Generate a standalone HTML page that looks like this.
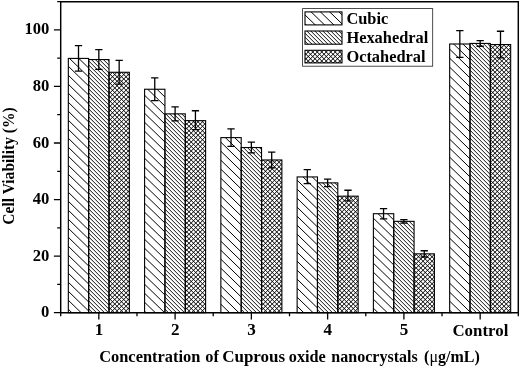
<!DOCTYPE html>
<html><head><meta charset="utf-8"><title>Cell Viability</title>
<style>
html,body{margin:0;padding:0;background:#fff;}
body{width:520px;height:366px;overflow:hidden;}
svg{display:block;}
text{font-family:"Liberation Serif","Times New Roman",serif;font-weight:bold;fill:#000;}
</style></head><body>
<svg width="520" height="366" viewBox="0 0 520 366">
<rect width="520" height="366" fill="#fff"/>
<defs><filter id="bl" x="-5%" y="-5%" width="110%" height="110%"><feGaussianBlur stdDeviation="0.4"/></filter><clipPath id="c1"><rect x="68.33" y="58.42" width="20.34" height="254.28"/></clipPath>
<clipPath id="c2"><rect x="88.66" y="59.55" width="20.34" height="253.15"/></clipPath>
<clipPath id="c3"><rect x="109.00" y="72.28" width="20.34" height="240.42"/></clipPath>
<clipPath id="c4"><rect x="144.59" y="89.25" width="20.34" height="223.45"/></clipPath>
<clipPath id="c5"><rect x="164.93" y="113.86" width="20.34" height="198.84"/></clipPath>
<clipPath id="c6"><rect x="185.27" y="120.64" width="20.34" height="192.06"/></clipPath>
<clipPath id="c7"><rect x="220.86" y="137.62" width="20.34" height="175.08"/></clipPath>
<clipPath id="c8"><rect x="241.20" y="147.52" width="20.34" height="165.18"/></clipPath>
<clipPath id="c9"><rect x="261.54" y="159.96" width="20.34" height="152.74"/></clipPath>
<clipPath id="c10"><rect x="297.13" y="176.93" width="20.34" height="135.77"/></clipPath>
<clipPath id="c11"><rect x="317.46" y="182.87" width="20.34" height="129.83"/></clipPath>
<clipPath id="c12"><rect x="337.80" y="196.17" width="20.34" height="116.53"/></clipPath>
<clipPath id="c13"><rect x="373.39" y="213.70" width="20.34" height="99.00"/></clipPath>
<clipPath id="c14"><rect x="393.73" y="221.34" width="20.34" height="91.36"/></clipPath>
<clipPath id="c15"><rect x="414.07" y="253.87" width="20.34" height="58.83"/></clipPath>
<clipPath id="c16"><rect x="449.66" y="43.99" width="20.34" height="268.71"/></clipPath>
<clipPath id="c17"><rect x="470.00" y="43.43" width="20.34" height="269.27"/></clipPath>
<clipPath id="c18"><rect x="490.34" y="44.56" width="20.34" height="268.14"/></clipPath>
<clipPath id="c19"><rect x="305.00" y="11.90" width="37.00" height="13.00"/></clipPath>
<clipPath id="c20"><rect x="305.00" y="31.00" width="37.00" height="13.20"/></clipPath>
<clipPath id="c21"><rect x="305.00" y="50.30" width="37.00" height="12.60"/></clipPath></defs>
<g clip-path="url(#c1)"><path filter="url(#bl)" d="M67.33 20.31L89.66 41.97M67.33 29.31L89.66 50.97M67.33 38.31L89.66 59.97M67.33 47.31L89.66 68.97M67.33 56.31L89.66 77.97M67.33 65.31L89.66 86.97M67.33 74.31L89.66 95.97M67.33 83.31L89.66 104.97M67.33 92.31L89.66 113.97M67.33 101.31L89.66 122.97M67.33 110.31L89.66 131.97M67.33 119.31L89.66 140.97M67.33 128.31L89.66 149.97M67.33 137.31L89.66 158.97M67.33 146.31L89.66 167.97M67.33 155.31L89.66 176.97M67.33 164.31L89.66 185.97M67.33 173.31L89.66 194.97M67.33 182.31L89.66 203.97M67.33 191.31L89.66 212.97M67.33 200.31L89.66 221.97M67.33 209.31L89.66 230.97M67.33 218.31L89.66 239.97M67.33 227.31L89.66 248.97M67.33 236.31L89.66 257.97M67.33 245.31L89.66 266.97M67.33 254.31L89.66 275.97M67.33 263.31L89.66 284.97M67.33 272.31L89.66 293.97M67.33 281.31L89.66 302.97M67.33 290.31L89.66 311.97M67.33 299.31L89.66 320.97M67.33 308.31L89.66 329.97M67.33 317.31L89.66 338.97M67.33 326.31L89.66 347.97" stroke="#000" stroke-width="1.00" fill="none"/></g>
<rect x="68.33" y="58.42" width="20.34" height="254.28" fill="none" stroke="#000" stroke-width="1.1"/>
<path d="M78.50 45.69V71.15M74.85 45.69H82.15M74.85 71.15H82.15" stroke="#000" stroke-width="1.3" fill="none"/>
<g clip-path="url(#c2)"><path filter="url(#bl)" d="M87.66 31.86L110.00 54.20M87.66 35.86L110.00 58.20M87.66 39.86L110.00 62.20M87.66 43.86L110.00 66.20M87.66 47.86L110.00 70.20M87.66 51.86L110.00 74.20M87.66 55.86L110.00 78.20M87.66 59.86L110.00 82.20M87.66 63.86L110.00 86.20M87.66 67.86L110.00 90.20M87.66 71.86L110.00 94.20M87.66 75.86L110.00 98.20M87.66 79.86L110.00 102.20M87.66 83.86L110.00 106.20M87.66 87.86L110.00 110.20M87.66 91.86L110.00 114.20M87.66 95.86L110.00 118.20M87.66 99.86L110.00 122.20M87.66 103.86L110.00 126.20M87.66 107.86L110.00 130.20M87.66 111.86L110.00 134.20M87.66 115.86L110.00 138.20M87.66 119.86L110.00 142.20M87.66 123.86L110.00 146.20M87.66 127.86L110.00 150.20M87.66 131.86L110.00 154.20M87.66 135.86L110.00 158.20M87.66 139.86L110.00 162.20M87.66 143.86L110.00 166.20M87.66 147.86L110.00 170.20M87.66 151.86L110.00 174.20M87.66 155.86L110.00 178.20M87.66 159.86L110.00 182.20M87.66 163.86L110.00 186.20M87.66 167.86L110.00 190.20M87.66 171.86L110.00 194.20M87.66 175.86L110.00 198.20M87.66 179.86L110.00 202.20M87.66 183.86L110.00 206.20M87.66 187.86L110.00 210.20M87.66 191.86L110.00 214.20M87.66 195.86L110.00 218.20M87.66 199.86L110.00 222.20M87.66 203.86L110.00 226.20M87.66 207.86L110.00 230.20M87.66 211.86L110.00 234.20M87.66 215.86L110.00 238.20M87.66 219.86L110.00 242.20M87.66 223.86L110.00 246.20M87.66 227.86L110.00 250.20M87.66 231.86L110.00 254.20M87.66 235.86L110.00 258.20M87.66 239.86L110.00 262.20M87.66 243.86L110.00 266.20M87.66 247.86L110.00 270.20M87.66 251.86L110.00 274.20M87.66 255.86L110.00 278.20M87.66 259.86L110.00 282.20M87.66 263.86L110.00 286.20M87.66 267.86L110.00 290.20M87.66 271.86L110.00 294.20M87.66 275.86L110.00 298.20M87.66 279.86L110.00 302.20M87.66 283.86L110.00 306.20M87.66 287.86L110.00 310.20M87.66 291.86L110.00 314.20M87.66 295.86L110.00 318.20M87.66 299.86L110.00 322.20M87.66 303.86L110.00 326.20M87.66 307.86L110.00 330.20M87.66 311.86L110.00 334.20M87.66 315.86L110.00 338.20" stroke="#000" stroke-width="0.95" fill="none"/></g>
<rect x="88.66" y="59.55" width="20.34" height="253.15" fill="none" stroke="#000" stroke-width="1.1"/>
<path d="M98.83 49.65V69.45M95.18 49.65H102.48M95.18 69.45H102.48" stroke="#000" stroke-width="1.3" fill="none"/>
<g clip-path="url(#c3)"><path filter="url(#bl)" d="M108.00 45.25L130.34 67.59M108.00 49.75L130.34 72.09M108.00 54.25L130.34 76.59M108.00 58.75L130.34 81.09M108.00 63.25L130.34 85.59M108.00 67.75L130.34 90.09M108.00 72.25L130.34 94.59M108.00 76.75L130.34 99.09M108.00 81.25L130.34 103.59M108.00 85.75L130.34 108.09M108.00 90.25L130.34 112.59M108.00 94.75L130.34 117.09M108.00 99.25L130.34 121.59M108.00 103.75L130.34 126.09M108.00 108.25L130.34 130.59M108.00 112.75L130.34 135.09M108.00 117.25L130.34 139.59M108.00 121.75L130.34 144.09M108.00 126.25L130.34 148.59M108.00 130.75L130.34 153.09M108.00 135.25L130.34 157.59M108.00 139.75L130.34 162.09M108.00 144.25L130.34 166.59M108.00 148.75L130.34 171.09M108.00 153.25L130.34 175.59M108.00 157.75L130.34 180.09M108.00 162.25L130.34 184.59M108.00 166.75L130.34 189.09M108.00 171.25L130.34 193.59M108.00 175.75L130.34 198.09M108.00 180.25L130.34 202.59M108.00 184.75L130.34 207.09M108.00 189.25L130.34 211.59M108.00 193.75L130.34 216.09M108.00 198.25L130.34 220.59M108.00 202.75L130.34 225.09M108.00 207.25L130.34 229.59M108.00 211.75L130.34 234.09M108.00 216.25L130.34 238.59M108.00 220.75L130.34 243.09M108.00 225.25L130.34 247.59M108.00 229.75L130.34 252.09M108.00 234.25L130.34 256.59M108.00 238.75L130.34 261.09M108.00 243.25L130.34 265.59M108.00 247.75L130.34 270.09M108.00 252.25L130.34 274.59M108.00 256.75L130.34 279.09M108.00 261.25L130.34 283.59M108.00 265.75L130.34 288.09M108.00 270.25L130.34 292.59M108.00 274.75L130.34 297.09M108.00 279.25L130.34 301.59M108.00 283.75L130.34 306.09M108.00 288.25L130.34 310.59M108.00 292.75L130.34 315.09M108.00 297.25L130.34 319.59M108.00 301.75L130.34 324.09M108.00 306.25L130.34 328.59M108.00 310.75L130.34 333.09M108.00 315.25L130.34 337.59M108.00 319.75L130.34 342.09M108.00 67.75L130.34 45.41M108.00 72.25L130.34 49.91M108.00 76.75L130.34 54.41M108.00 81.25L130.34 58.91M108.00 85.75L130.34 63.41M108.00 90.25L130.34 67.91M108.00 94.75L130.34 72.41M108.00 99.25L130.34 76.91M108.00 103.75L130.34 81.41M108.00 108.25L130.34 85.91M108.00 112.75L130.34 90.41M108.00 117.25L130.34 94.91M108.00 121.75L130.34 99.41M108.00 126.25L130.34 103.91M108.00 130.75L130.34 108.41M108.00 135.25L130.34 112.91M108.00 139.75L130.34 117.41M108.00 144.25L130.34 121.91M108.00 148.75L130.34 126.41M108.00 153.25L130.34 130.91M108.00 157.75L130.34 135.41M108.00 162.25L130.34 139.91M108.00 166.75L130.34 144.41M108.00 171.25L130.34 148.91M108.00 175.75L130.34 153.41M108.00 180.25L130.34 157.91M108.00 184.75L130.34 162.41M108.00 189.25L130.34 166.91M108.00 193.75L130.34 171.41M108.00 198.25L130.34 175.91M108.00 202.75L130.34 180.41M108.00 207.25L130.34 184.91M108.00 211.75L130.34 189.41M108.00 216.25L130.34 193.91M108.00 220.75L130.34 198.41M108.00 225.25L130.34 202.91M108.00 229.75L130.34 207.41M108.00 234.25L130.34 211.91M108.00 238.75L130.34 216.41M108.00 243.25L130.34 220.91M108.00 247.75L130.34 225.41M108.00 252.25L130.34 229.91M108.00 256.75L130.34 234.41M108.00 261.25L130.34 238.91M108.00 265.75L130.34 243.41M108.00 270.25L130.34 247.91M108.00 274.75L130.34 252.41M108.00 279.25L130.34 256.91M108.00 283.75L130.34 261.41M108.00 288.25L130.34 265.91M108.00 292.75L130.34 270.41M108.00 297.25L130.34 274.91M108.00 301.75L130.34 279.41M108.00 306.25L130.34 283.91M108.00 310.75L130.34 288.41M108.00 315.25L130.34 292.91M108.00 319.75L130.34 297.41M108.00 324.25L130.34 301.91M108.00 328.75L130.34 306.41M108.00 333.25L130.34 310.91M108.00 337.75L130.34 315.41M108.00 342.25L130.34 319.91" stroke="#000" stroke-width="1.00" fill="none"/></g>
<rect x="109.00" y="72.28" width="20.34" height="240.42" fill="none" stroke="#000" stroke-width="1.1"/>
<path d="M119.17 60.40V84.16M115.52 60.40H122.82M115.52 84.16H122.82" stroke="#000" stroke-width="1.3" fill="none"/>
<g clip-path="url(#c4)"><path filter="url(#bl)" d="M143.59 58.29L165.93 79.95M143.59 67.29L165.93 88.95M143.59 76.29L165.93 97.95M143.59 85.29L165.93 106.95M143.59 94.29L165.93 115.95M143.59 103.29L165.93 124.95M143.59 112.29L165.93 133.95M143.59 121.29L165.93 142.95M143.59 130.29L165.93 151.95M143.59 139.29L165.93 160.95M143.59 148.29L165.93 169.95M143.59 157.29L165.93 178.95M143.59 166.29L165.93 187.95M143.59 175.29L165.93 196.95M143.59 184.29L165.93 205.95M143.59 193.29L165.93 214.95M143.59 202.29L165.93 223.95M143.59 211.29L165.93 232.95M143.59 220.29L165.93 241.95M143.59 229.29L165.93 250.95M143.59 238.29L165.93 259.95M143.59 247.29L165.93 268.95M143.59 256.29L165.93 277.95M143.59 265.29L165.93 286.95M143.59 274.29L165.93 295.95M143.59 283.29L165.93 304.95M143.59 292.29L165.93 313.95M143.59 301.29L165.93 322.95M143.59 310.29L165.93 331.95M143.59 319.29L165.93 340.95M143.59 328.29L165.93 349.95" stroke="#000" stroke-width="1.00" fill="none"/></g>
<rect x="144.59" y="89.25" width="20.34" height="223.45" fill="none" stroke="#000" stroke-width="1.1"/>
<path d="M154.76 77.93V100.56M151.11 77.93H158.41M151.11 100.56H158.41" stroke="#000" stroke-width="1.3" fill="none"/>
<g clip-path="url(#c5)"><path filter="url(#bl)" d="M163.93 88.13L186.27 110.47M163.93 92.13L186.27 114.47M163.93 96.13L186.27 118.47M163.93 100.13L186.27 122.47M163.93 104.13L186.27 126.47M163.93 108.13L186.27 130.47M163.93 112.13L186.27 134.47M163.93 116.13L186.27 138.47M163.93 120.13L186.27 142.47M163.93 124.13L186.27 146.47M163.93 128.13L186.27 150.47M163.93 132.13L186.27 154.47M163.93 136.13L186.27 158.47M163.93 140.13L186.27 162.47M163.93 144.13L186.27 166.47M163.93 148.13L186.27 170.47M163.93 152.13L186.27 174.47M163.93 156.13L186.27 178.47M163.93 160.13L186.27 182.47M163.93 164.13L186.27 186.47M163.93 168.13L186.27 190.47M163.93 172.13L186.27 194.47M163.93 176.13L186.27 198.47M163.93 180.13L186.27 202.47M163.93 184.13L186.27 206.47M163.93 188.13L186.27 210.47M163.93 192.13L186.27 214.47M163.93 196.13L186.27 218.47M163.93 200.13L186.27 222.47M163.93 204.13L186.27 226.47M163.93 208.13L186.27 230.47M163.93 212.13L186.27 234.47M163.93 216.13L186.27 238.47M163.93 220.13L186.27 242.47M163.93 224.13L186.27 246.47M163.93 228.13L186.27 250.47M163.93 232.13L186.27 254.47M163.93 236.13L186.27 258.47M163.93 240.13L186.27 262.47M163.93 244.13L186.27 266.47M163.93 248.13L186.27 270.47M163.93 252.13L186.27 274.47M163.93 256.13L186.27 278.47M163.93 260.13L186.27 282.47M163.93 264.13L186.27 286.47M163.93 268.13L186.27 290.47M163.93 272.13L186.27 294.47M163.93 276.13L186.27 298.47M163.93 280.13L186.27 302.47M163.93 284.13L186.27 306.47M163.93 288.13L186.27 310.47M163.93 292.13L186.27 314.47M163.93 296.13L186.27 318.47M163.93 300.13L186.27 322.47M163.93 304.13L186.27 326.47M163.93 308.13L186.27 330.47M163.93 312.13L186.27 334.47M163.93 316.13L186.27 338.47" stroke="#000" stroke-width="0.95" fill="none"/></g>
<rect x="164.93" y="113.86" width="20.34" height="198.84" fill="none" stroke="#000" stroke-width="1.1"/>
<path d="M175.10 106.79V120.93M171.45 106.79H178.75M171.45 120.93H178.75" stroke="#000" stroke-width="1.3" fill="none"/>
<g clip-path="url(#c6)"><path filter="url(#bl)" d="M184.27 94.52L206.61 116.86M184.27 99.02L206.61 121.36M184.27 103.52L206.61 125.86M184.27 108.02L206.61 130.36M184.27 112.52L206.61 134.86M184.27 117.02L206.61 139.36M184.27 121.52L206.61 143.86M184.27 126.02L206.61 148.36M184.27 130.52L206.61 152.86M184.27 135.02L206.61 157.36M184.27 139.52L206.61 161.86M184.27 144.02L206.61 166.36M184.27 148.52L206.61 170.86M184.27 153.02L206.61 175.36M184.27 157.52L206.61 179.86M184.27 162.02L206.61 184.36M184.27 166.52L206.61 188.86M184.27 171.02L206.61 193.36M184.27 175.52L206.61 197.86M184.27 180.02L206.61 202.36M184.27 184.52L206.61 206.86M184.27 189.02L206.61 211.36M184.27 193.52L206.61 215.86M184.27 198.02L206.61 220.36M184.27 202.52L206.61 224.86M184.27 207.02L206.61 229.36M184.27 211.52L206.61 233.86M184.27 216.02L206.61 238.36M184.27 220.52L206.61 242.86M184.27 225.02L206.61 247.36M184.27 229.52L206.61 251.86M184.27 234.02L206.61 256.36M184.27 238.52L206.61 260.86M184.27 243.02L206.61 265.36M184.27 247.52L206.61 269.86M184.27 252.02L206.61 274.36M184.27 256.52L206.61 278.86M184.27 261.02L206.61 283.36M184.27 265.52L206.61 287.86M184.27 270.02L206.61 292.36M184.27 274.52L206.61 296.86M184.27 279.02L206.61 301.36M184.27 283.52L206.61 305.86M184.27 288.02L206.61 310.36M184.27 292.52L206.61 314.86M184.27 297.02L206.61 319.36M184.27 301.52L206.61 323.86M184.27 306.02L206.61 328.36M184.27 310.52L206.61 332.86M184.27 315.02L206.61 337.36M184.27 319.52L206.61 341.86M184.27 112.98L206.61 90.64M184.27 117.48L206.61 95.14M184.27 121.98L206.61 99.64M184.27 126.48L206.61 104.14M184.27 130.98L206.61 108.64M184.27 135.48L206.61 113.14M184.27 139.98L206.61 117.64M184.27 144.48L206.61 122.14M184.27 148.98L206.61 126.64M184.27 153.48L206.61 131.14M184.27 157.98L206.61 135.64M184.27 162.48L206.61 140.14M184.27 166.98L206.61 144.64M184.27 171.48L206.61 149.14M184.27 175.98L206.61 153.64M184.27 180.48L206.61 158.14M184.27 184.98L206.61 162.64M184.27 189.48L206.61 167.14M184.27 193.98L206.61 171.64M184.27 198.48L206.61 176.14M184.27 202.98L206.61 180.64M184.27 207.48L206.61 185.14M184.27 211.98L206.61 189.64M184.27 216.48L206.61 194.14M184.27 220.98L206.61 198.64M184.27 225.48L206.61 203.14M184.27 229.98L206.61 207.64M184.27 234.48L206.61 212.14M184.27 238.98L206.61 216.64M184.27 243.48L206.61 221.14M184.27 247.98L206.61 225.64M184.27 252.48L206.61 230.14M184.27 256.98L206.61 234.64M184.27 261.48L206.61 239.14M184.27 265.98L206.61 243.64M184.27 270.48L206.61 248.14M184.27 274.98L206.61 252.64M184.27 279.48L206.61 257.14M184.27 283.98L206.61 261.64M184.27 288.48L206.61 266.14M184.27 292.98L206.61 270.64M184.27 297.48L206.61 275.14M184.27 301.98L206.61 279.64M184.27 306.48L206.61 284.14M184.27 310.98L206.61 288.64M184.27 315.48L206.61 293.14M184.27 319.98L206.61 297.64M184.27 324.48L206.61 302.14M184.27 328.98L206.61 306.64M184.27 333.48L206.61 311.14M184.27 337.98L206.61 315.64M184.27 342.48L206.61 320.14" stroke="#000" stroke-width="1.00" fill="none"/></g>
<rect x="185.27" y="120.64" width="20.34" height="192.06" fill="none" stroke="#000" stroke-width="1.1"/>
<path d="M195.44 110.75V129.70M191.79 110.75H199.09M191.79 129.70H199.09" stroke="#000" stroke-width="1.3" fill="none"/>
<g clip-path="url(#c7)"><path filter="url(#bl)" d="M219.86 105.26L242.20 126.93M219.86 114.26L242.20 135.93M219.86 123.26L242.20 144.93M219.86 132.26L242.20 153.93M219.86 141.26L242.20 162.93M219.86 150.26L242.20 171.93M219.86 159.26L242.20 180.93M219.86 168.26L242.20 189.93M219.86 177.26L242.20 198.93M219.86 186.26L242.20 207.93M219.86 195.26L242.20 216.93M219.86 204.26L242.20 225.93M219.86 213.26L242.20 234.93M219.86 222.26L242.20 243.93M219.86 231.26L242.20 252.93M219.86 240.26L242.20 261.93M219.86 249.26L242.20 270.93M219.86 258.26L242.20 279.93M219.86 267.26L242.20 288.93M219.86 276.26L242.20 297.93M219.86 285.26L242.20 306.93M219.86 294.26L242.20 315.93M219.86 303.26L242.20 324.93M219.86 312.26L242.20 333.93M219.86 321.26L242.20 342.93" stroke="#000" stroke-width="1.00" fill="none"/></g>
<rect x="220.86" y="137.62" width="20.34" height="175.08" fill="none" stroke="#000" stroke-width="1.1"/>
<path d="M231.03 128.85V146.38M227.38 128.85H234.68M227.38 146.38H234.68" stroke="#000" stroke-width="1.3" fill="none"/>
<g clip-path="url(#c8)"><path filter="url(#bl)" d="M240.20 120.40L262.54 142.74M240.20 124.40L262.54 146.74M240.20 128.40L262.54 150.74M240.20 132.40L262.54 154.74M240.20 136.40L262.54 158.74M240.20 140.40L262.54 162.74M240.20 144.40L262.54 166.74M240.20 148.40L262.54 170.74M240.20 152.40L262.54 174.74M240.20 156.40L262.54 178.74M240.20 160.40L262.54 182.74M240.20 164.40L262.54 186.74M240.20 168.40L262.54 190.74M240.20 172.40L262.54 194.74M240.20 176.40L262.54 198.74M240.20 180.40L262.54 202.74M240.20 184.40L262.54 206.74M240.20 188.40L262.54 210.74M240.20 192.40L262.54 214.74M240.20 196.40L262.54 218.74M240.20 200.40L262.54 222.74M240.20 204.40L262.54 226.74M240.20 208.40L262.54 230.74M240.20 212.40L262.54 234.74M240.20 216.40L262.54 238.74M240.20 220.40L262.54 242.74M240.20 224.40L262.54 246.74M240.20 228.40L262.54 250.74M240.20 232.40L262.54 254.74M240.20 236.40L262.54 258.74M240.20 240.40L262.54 262.74M240.20 244.40L262.54 266.74M240.20 248.40L262.54 270.74M240.20 252.40L262.54 274.74M240.20 256.40L262.54 278.74M240.20 260.40L262.54 282.74M240.20 264.40L262.54 286.74M240.20 268.40L262.54 290.74M240.20 272.40L262.54 294.74M240.20 276.40L262.54 298.74M240.20 280.40L262.54 302.74M240.20 284.40L262.54 306.74M240.20 288.40L262.54 310.74M240.20 292.40L262.54 314.74M240.20 296.40L262.54 318.74M240.20 300.40L262.54 322.74M240.20 304.40L262.54 326.74M240.20 308.40L262.54 330.74M240.20 312.40L262.54 334.74M240.20 316.40L262.54 338.74" stroke="#000" stroke-width="0.95" fill="none"/></g>
<rect x="241.20" y="147.52" width="20.34" height="165.18" fill="none" stroke="#000" stroke-width="1.1"/>
<path d="M251.37 142.14V152.89M247.72 142.14H255.02M247.72 152.89H255.02" stroke="#000" stroke-width="1.3" fill="none"/>
<g clip-path="url(#c9)"><path filter="url(#bl)" d="M260.54 130.29L282.87 152.62M260.54 134.79L282.87 157.12M260.54 139.29L282.87 161.62M260.54 143.79L282.87 166.12M260.54 148.29L282.87 170.62M260.54 152.79L282.87 175.12M260.54 157.29L282.87 179.62M260.54 161.79L282.87 184.12M260.54 166.29L282.87 188.62M260.54 170.79L282.87 193.12M260.54 175.29L282.87 197.62M260.54 179.79L282.87 202.12M260.54 184.29L282.87 206.62M260.54 188.79L282.87 211.12M260.54 193.29L282.87 215.62M260.54 197.79L282.87 220.12M260.54 202.29L282.87 224.62M260.54 206.79L282.87 229.12M260.54 211.29L282.87 233.62M260.54 215.79L282.87 238.12M260.54 220.29L282.87 242.62M260.54 224.79L282.87 247.12M260.54 229.29L282.87 251.62M260.54 233.79L282.87 256.12M260.54 238.29L282.87 260.62M260.54 242.79L282.87 265.12M260.54 247.29L282.87 269.62M260.54 251.79L282.87 274.12M260.54 256.29L282.87 278.62M260.54 260.79L282.87 283.12M260.54 265.29L282.87 287.62M260.54 269.79L282.87 292.12M260.54 274.29L282.87 296.62M260.54 278.79L282.87 301.12M260.54 283.29L282.87 305.62M260.54 287.79L282.87 310.12M260.54 292.29L282.87 314.62M260.54 296.79L282.87 319.12M260.54 301.29L282.87 323.62M260.54 305.79L282.87 328.12M260.54 310.29L282.87 332.62M260.54 314.79L282.87 337.12M260.54 319.29L282.87 341.62M260.54 153.71L282.87 131.38M260.54 158.21L282.87 135.88M260.54 162.71L282.87 140.38M260.54 167.21L282.87 144.88M260.54 171.71L282.87 149.38M260.54 176.21L282.87 153.88M260.54 180.71L282.87 158.38M260.54 185.21L282.87 162.88M260.54 189.71L282.87 167.38M260.54 194.21L282.87 171.88M260.54 198.71L282.87 176.38M260.54 203.21L282.87 180.88M260.54 207.71L282.87 185.38M260.54 212.21L282.87 189.88M260.54 216.71L282.87 194.38M260.54 221.21L282.87 198.88M260.54 225.71L282.87 203.38M260.54 230.21L282.87 207.88M260.54 234.71L282.87 212.38M260.54 239.21L282.87 216.88M260.54 243.71L282.87 221.38M260.54 248.21L282.87 225.88M260.54 252.71L282.87 230.38M260.54 257.21L282.87 234.88M260.54 261.71L282.87 239.38M260.54 266.21L282.87 243.88M260.54 270.71L282.87 248.38M260.54 275.21L282.87 252.88M260.54 279.71L282.87 257.38M260.54 284.21L282.87 261.88M260.54 288.71L282.87 266.38M260.54 293.21L282.87 270.88M260.54 297.71L282.87 275.38M260.54 302.21L282.87 279.88M260.54 306.71L282.87 284.38M260.54 311.21L282.87 288.88M260.54 315.71L282.87 293.38M260.54 320.21L282.87 297.88M260.54 324.71L282.87 302.38M260.54 329.21L282.87 306.88M260.54 333.71L282.87 311.38M260.54 338.21L282.87 315.88M260.54 342.71L282.87 320.38" stroke="#000" stroke-width="1.00" fill="none"/></g>
<rect x="261.54" y="159.96" width="20.34" height="152.74" fill="none" stroke="#000" stroke-width="1.1"/>
<path d="M271.70 152.04V167.88M268.05 152.04H275.35M268.05 167.88H275.35" stroke="#000" stroke-width="1.3" fill="none"/>
<g clip-path="url(#c10)"><path filter="url(#bl)" d="M296.13 143.24L318.46 164.91M296.13 152.24L318.46 173.91M296.13 161.24L318.46 182.91M296.13 170.24L318.46 191.91M296.13 179.24L318.46 200.91M296.13 188.24L318.46 209.91M296.13 197.24L318.46 218.91M296.13 206.24L318.46 227.91M296.13 215.24L318.46 236.91M296.13 224.24L318.46 245.91M296.13 233.24L318.46 254.91M296.13 242.24L318.46 263.91M296.13 251.24L318.46 272.91M296.13 260.24L318.46 281.91M296.13 269.24L318.46 290.91M296.13 278.24L318.46 299.91M296.13 287.24L318.46 308.91M296.13 296.24L318.46 317.91M296.13 305.24L318.46 326.91M296.13 314.24L318.46 335.91M296.13 323.24L318.46 344.91" stroke="#000" stroke-width="1.00" fill="none"/></g>
<rect x="297.13" y="176.93" width="20.34" height="135.77" fill="none" stroke="#000" stroke-width="1.1"/>
<path d="M307.30 169.72V183.72M303.65 169.72H310.95M303.65 183.72H310.95" stroke="#000" stroke-width="1.3" fill="none"/>
<g clip-path="url(#c11)"><path filter="url(#bl)" d="M316.46 156.66L338.80 179.00M316.46 160.66L338.80 183.00M316.46 164.66L338.80 187.00M316.46 168.66L338.80 191.00M316.46 172.66L338.80 195.00M316.46 176.66L338.80 199.00M316.46 180.66L338.80 203.00M316.46 184.66L338.80 207.00M316.46 188.66L338.80 211.00M316.46 192.66L338.80 215.00M316.46 196.66L338.80 219.00M316.46 200.66L338.80 223.00M316.46 204.66L338.80 227.00M316.46 208.66L338.80 231.00M316.46 212.66L338.80 235.00M316.46 216.66L338.80 239.00M316.46 220.66L338.80 243.00M316.46 224.66L338.80 247.00M316.46 228.66L338.80 251.00M316.46 232.66L338.80 255.00M316.46 236.66L338.80 259.00M316.46 240.66L338.80 263.00M316.46 244.66L338.80 267.00M316.46 248.66L338.80 271.00M316.46 252.66L338.80 275.00M316.46 256.66L338.80 279.00M316.46 260.66L338.80 283.00M316.46 264.66L338.80 287.00M316.46 268.66L338.80 291.00M316.46 272.66L338.80 295.00M316.46 276.66L338.80 299.00M316.46 280.66L338.80 303.00M316.46 284.66L338.80 307.00M316.46 288.66L338.80 311.00M316.46 292.66L338.80 315.00M316.46 296.66L338.80 319.00M316.46 300.66L338.80 323.00M316.46 304.66L338.80 327.00M316.46 308.66L338.80 331.00M316.46 312.66L338.80 335.00M316.46 316.66L338.80 339.00" stroke="#000" stroke-width="0.95" fill="none"/></g>
<rect x="317.46" y="182.87" width="20.34" height="129.83" fill="none" stroke="#000" stroke-width="1.1"/>
<path d="M327.63 179.19V186.55M323.98 179.19H331.28M323.98 186.55H331.28" stroke="#000" stroke-width="1.3" fill="none"/>
<g clip-path="url(#c12)"><path filter="url(#bl)" d="M336.80 166.05L359.14 188.39M336.80 170.55L359.14 192.89M336.80 175.05L359.14 197.39M336.80 179.55L359.14 201.89M336.80 184.05L359.14 206.39M336.80 188.55L359.14 210.89M336.80 193.05L359.14 215.39M336.80 197.55L359.14 219.89M336.80 202.05L359.14 224.39M336.80 206.55L359.14 228.89M336.80 211.05L359.14 233.39M336.80 215.55L359.14 237.89M336.80 220.05L359.14 242.39M336.80 224.55L359.14 246.89M336.80 229.05L359.14 251.39M336.80 233.55L359.14 255.89M336.80 238.05L359.14 260.39M336.80 242.55L359.14 264.89M336.80 247.05L359.14 269.39M336.80 251.55L359.14 273.89M336.80 256.05L359.14 278.39M336.80 260.55L359.14 282.89M336.80 265.05L359.14 287.39M336.80 269.55L359.14 291.89M336.80 274.05L359.14 296.39M336.80 278.55L359.14 300.89M336.80 283.05L359.14 305.39M336.80 287.55L359.14 309.89M336.80 292.05L359.14 314.39M336.80 296.55L359.14 318.89M336.80 301.05L359.14 323.39M336.80 305.55L359.14 327.89M336.80 310.05L359.14 332.39M336.80 314.55L359.14 336.89M336.80 319.05L359.14 341.39M336.80 189.95L359.14 167.61M336.80 194.45L359.14 172.11M336.80 198.95L359.14 176.61M336.80 203.45L359.14 181.11M336.80 207.95L359.14 185.61M336.80 212.45L359.14 190.11M336.80 216.95L359.14 194.61M336.80 221.45L359.14 199.11M336.80 225.95L359.14 203.61M336.80 230.45L359.14 208.11M336.80 234.95L359.14 212.61M336.80 239.45L359.14 217.11M336.80 243.95L359.14 221.61M336.80 248.45L359.14 226.11M336.80 252.95L359.14 230.61M336.80 257.45L359.14 235.11M336.80 261.95L359.14 239.61M336.80 266.45L359.14 244.11M336.80 270.95L359.14 248.61M336.80 275.45L359.14 253.11M336.80 279.95L359.14 257.61M336.80 284.45L359.14 262.11M336.80 288.95L359.14 266.61M336.80 293.45L359.14 271.11M336.80 297.95L359.14 275.61M336.80 302.45L359.14 280.11M336.80 306.95L359.14 284.61M336.80 311.45L359.14 289.11M336.80 315.95L359.14 293.61M336.80 320.45L359.14 298.11M336.80 324.95L359.14 302.61M336.80 329.45L359.14 307.11M336.80 333.95L359.14 311.61M336.80 338.45L359.14 316.11M336.80 342.95L359.14 320.61" stroke="#000" stroke-width="1.00" fill="none"/></g>
<rect x="337.80" y="196.17" width="20.34" height="116.53" fill="none" stroke="#000" stroke-width="1.1"/>
<path d="M347.97 190.23V200.97M344.32 190.23H351.62M344.32 200.97H351.62" stroke="#000" stroke-width="1.3" fill="none"/>
<g clip-path="url(#c13)"><path filter="url(#bl)" d="M372.39 181.22L394.73 202.89M372.39 190.22L394.73 211.89M372.39 199.22L394.73 220.89M372.39 208.22L394.73 229.89M372.39 217.22L394.73 238.89M372.39 226.22L394.73 247.89M372.39 235.22L394.73 256.89M372.39 244.22L394.73 265.89M372.39 253.22L394.73 274.89M372.39 262.22L394.73 283.89M372.39 271.22L394.73 292.89M372.39 280.22L394.73 301.89M372.39 289.22L394.73 310.89M372.39 298.22L394.73 319.89M372.39 307.22L394.73 328.89M372.39 316.22L394.73 337.89M372.39 325.22L394.73 346.89" stroke="#000" stroke-width="1.00" fill="none"/></g>
<rect x="373.39" y="213.70" width="20.34" height="99.00" fill="none" stroke="#000" stroke-width="1.1"/>
<path d="M383.56 208.61V218.79M379.91 208.61H387.21M379.91 218.79H387.21" stroke="#000" stroke-width="1.3" fill="none"/>
<g clip-path="url(#c14)"><path filter="url(#bl)" d="M392.73 192.93L415.07 215.27M392.73 196.93L415.07 219.27M392.73 200.93L415.07 223.27M392.73 204.93L415.07 227.27M392.73 208.93L415.07 231.27M392.73 212.93L415.07 235.27M392.73 216.93L415.07 239.27M392.73 220.93L415.07 243.27M392.73 224.93L415.07 247.27M392.73 228.93L415.07 251.27M392.73 232.93L415.07 255.27M392.73 236.93L415.07 259.27M392.73 240.93L415.07 263.27M392.73 244.93L415.07 267.27M392.73 248.93L415.07 271.27M392.73 252.93L415.07 275.27M392.73 256.93L415.07 279.27M392.73 260.93L415.07 283.27M392.73 264.93L415.07 287.27M392.73 268.93L415.07 291.27M392.73 272.93L415.07 295.27M392.73 276.93L415.07 299.27M392.73 280.93L415.07 303.27M392.73 284.93L415.07 307.27M392.73 288.93L415.07 311.27M392.73 292.93L415.07 315.27M392.73 296.93L415.07 319.27M392.73 300.93L415.07 323.27M392.73 304.93L415.07 327.27M392.73 308.93L415.07 331.27M392.73 312.93L415.07 335.27M392.73 316.93L415.07 339.27" stroke="#000" stroke-width="0.95" fill="none"/></g>
<rect x="393.73" y="221.34" width="20.34" height="91.36" fill="none" stroke="#000" stroke-width="1.1"/>
<path d="M403.90 219.64V223.04M400.25 219.64H407.55M400.25 223.04H407.55" stroke="#000" stroke-width="1.3" fill="none"/>
<g clip-path="url(#c15)"><path filter="url(#bl)" d="M413.07 224.32L435.41 246.66M413.07 228.82L435.41 251.16M413.07 233.32L435.41 255.66M413.07 237.82L435.41 260.16M413.07 242.32L435.41 264.66M413.07 246.82L435.41 269.16M413.07 251.32L435.41 273.66M413.07 255.82L435.41 278.16M413.07 260.32L435.41 282.66M413.07 264.82L435.41 287.16M413.07 269.32L435.41 291.66M413.07 273.82L435.41 296.16M413.07 278.32L435.41 300.66M413.07 282.82L435.41 305.16M413.07 287.32L435.41 309.66M413.07 291.82L435.41 314.16M413.07 296.32L435.41 318.66M413.07 300.82L435.41 323.16M413.07 305.32L435.41 327.66M413.07 309.82L435.41 332.16M413.07 314.32L435.41 336.66M413.07 318.82L435.41 341.16M413.07 248.68L435.41 226.34M413.07 253.18L435.41 230.84M413.07 257.68L435.41 235.34M413.07 262.18L435.41 239.84M413.07 266.68L435.41 244.34M413.07 271.18L435.41 248.84M413.07 275.68L435.41 253.34M413.07 280.18L435.41 257.84M413.07 284.68L435.41 262.34M413.07 289.18L435.41 266.84M413.07 293.68L435.41 271.34M413.07 298.18L435.41 275.84M413.07 302.68L435.41 280.34M413.07 307.18L435.41 284.84M413.07 311.68L435.41 289.34M413.07 316.18L435.41 293.84M413.07 320.68L435.41 298.34M413.07 325.18L435.41 302.84M413.07 329.68L435.41 307.34M413.07 334.18L435.41 311.84M413.07 338.68L435.41 316.34" stroke="#000" stroke-width="1.00" fill="none"/></g>
<rect x="414.07" y="253.87" width="20.34" height="58.83" fill="none" stroke="#000" stroke-width="1.1"/>
<path d="M424.24 250.76V256.98M420.59 250.76H427.89M420.59 256.98H427.89" stroke="#000" stroke-width="1.3" fill="none"/>
<g clip-path="url(#c16)"><path filter="url(#bl)" d="M448.66 12.20L471.00 33.87M448.66 21.20L471.00 42.87M448.66 30.20L471.00 51.87M448.66 39.20L471.00 60.87M448.66 48.20L471.00 69.87M448.66 57.20L471.00 78.87M448.66 66.20L471.00 87.87M448.66 75.20L471.00 96.87M448.66 84.20L471.00 105.87M448.66 93.20L471.00 114.87M448.66 102.20L471.00 123.87M448.66 111.20L471.00 132.87M448.66 120.20L471.00 141.87M448.66 129.20L471.00 150.87M448.66 138.20L471.00 159.87M448.66 147.20L471.00 168.87M448.66 156.20L471.00 177.87M448.66 165.20L471.00 186.87M448.66 174.20L471.00 195.87M448.66 183.20L471.00 204.87M448.66 192.20L471.00 213.87M448.66 201.20L471.00 222.87M448.66 210.20L471.00 231.87M448.66 219.20L471.00 240.87M448.66 228.20L471.00 249.87M448.66 237.20L471.00 258.87M448.66 246.20L471.00 267.87M448.66 255.20L471.00 276.87M448.66 264.20L471.00 285.87M448.66 273.20L471.00 294.87M448.66 282.20L471.00 303.87M448.66 291.20L471.00 312.87M448.66 300.20L471.00 321.87M448.66 309.20L471.00 330.87M448.66 318.20L471.00 339.87M448.66 327.20L471.00 348.87" stroke="#000" stroke-width="1.00" fill="none"/></g>
<rect x="449.66" y="43.99" width="20.34" height="268.71" fill="none" stroke="#000" stroke-width="1.1"/>
<path d="M459.83 30.70V57.29M456.18 30.70H463.48M456.18 57.29H463.48" stroke="#000" stroke-width="1.3" fill="none"/>
<g clip-path="url(#c17)"><path filter="url(#bl)" d="M469.00 17.20L491.34 39.54M469.00 21.20L491.34 43.54M469.00 25.20L491.34 47.54M469.00 29.20L491.34 51.54M469.00 33.20L491.34 55.54M469.00 37.20L491.34 59.54M469.00 41.20L491.34 63.54M469.00 45.20L491.34 67.54M469.00 49.20L491.34 71.54M469.00 53.20L491.34 75.54M469.00 57.20L491.34 79.54M469.00 61.20L491.34 83.54M469.00 65.20L491.34 87.54M469.00 69.20L491.34 91.54M469.00 73.20L491.34 95.54M469.00 77.20L491.34 99.54M469.00 81.20L491.34 103.54M469.00 85.20L491.34 107.54M469.00 89.20L491.34 111.54M469.00 93.20L491.34 115.54M469.00 97.20L491.34 119.54M469.00 101.20L491.34 123.54M469.00 105.20L491.34 127.54M469.00 109.20L491.34 131.54M469.00 113.20L491.34 135.54M469.00 117.20L491.34 139.54M469.00 121.20L491.34 143.54M469.00 125.20L491.34 147.54M469.00 129.20L491.34 151.54M469.00 133.20L491.34 155.54M469.00 137.20L491.34 159.54M469.00 141.20L491.34 163.54M469.00 145.20L491.34 167.54M469.00 149.20L491.34 171.54M469.00 153.20L491.34 175.54M469.00 157.20L491.34 179.54M469.00 161.20L491.34 183.54M469.00 165.20L491.34 187.54M469.00 169.20L491.34 191.54M469.00 173.20L491.34 195.54M469.00 177.20L491.34 199.54M469.00 181.20L491.34 203.54M469.00 185.20L491.34 207.54M469.00 189.20L491.34 211.54M469.00 193.20L491.34 215.54M469.00 197.20L491.34 219.54M469.00 201.20L491.34 223.54M469.00 205.20L491.34 227.54M469.00 209.20L491.34 231.54M469.00 213.20L491.34 235.54M469.00 217.20L491.34 239.54M469.00 221.20L491.34 243.54M469.00 225.20L491.34 247.54M469.00 229.20L491.34 251.54M469.00 233.20L491.34 255.54M469.00 237.20L491.34 259.54M469.00 241.20L491.34 263.54M469.00 245.20L491.34 267.54M469.00 249.20L491.34 271.54M469.00 253.20L491.34 275.54M469.00 257.20L491.34 279.54M469.00 261.20L491.34 283.54M469.00 265.20L491.34 287.54M469.00 269.20L491.34 291.54M469.00 273.20L491.34 295.54M469.00 277.20L491.34 299.54M469.00 281.20L491.34 303.54M469.00 285.20L491.34 307.54M469.00 289.20L491.34 311.54M469.00 293.20L491.34 315.54M469.00 297.20L491.34 319.54M469.00 301.20L491.34 323.54M469.00 305.20L491.34 327.54M469.00 309.20L491.34 331.54M469.00 313.20L491.34 335.54M469.00 317.20L491.34 339.54" stroke="#000" stroke-width="0.95" fill="none"/></g>
<rect x="470.00" y="43.43" width="20.34" height="269.27" fill="none" stroke="#000" stroke-width="1.1"/>
<path d="M480.17 40.60V46.26M476.52 40.60H483.82M476.52 46.26H483.82" stroke="#000" stroke-width="1.3" fill="none"/>
<g clip-path="url(#c18)"><path filter="url(#bl)" d="M489.34 17.09L511.67 39.42M489.34 21.59L511.67 43.92M489.34 26.09L511.67 48.42M489.34 30.59L511.67 52.92M489.34 35.09L511.67 57.42M489.34 39.59L511.67 61.92M489.34 44.09L511.67 66.42M489.34 48.59L511.67 70.92M489.34 53.09L511.67 75.42M489.34 57.59L511.67 79.92M489.34 62.09L511.67 84.42M489.34 66.59L511.67 88.92M489.34 71.09L511.67 93.42M489.34 75.59L511.67 97.92M489.34 80.09L511.67 102.42M489.34 84.59L511.67 106.92M489.34 89.09L511.67 111.42M489.34 93.59L511.67 115.92M489.34 98.09L511.67 120.42M489.34 102.59L511.67 124.92M489.34 107.09L511.67 129.42M489.34 111.59L511.67 133.92M489.34 116.09L511.67 138.42M489.34 120.59L511.67 142.92M489.34 125.09L511.67 147.42M489.34 129.59L511.67 151.92M489.34 134.09L511.67 156.42M489.34 138.59L511.67 160.92M489.34 143.09L511.67 165.42M489.34 147.59L511.67 169.92M489.34 152.09L511.67 174.42M489.34 156.59L511.67 178.92M489.34 161.09L511.67 183.42M489.34 165.59L511.67 187.92M489.34 170.09L511.67 192.42M489.34 174.59L511.67 196.92M489.34 179.09L511.67 201.42M489.34 183.59L511.67 205.92M489.34 188.09L511.67 210.42M489.34 192.59L511.67 214.92M489.34 197.09L511.67 219.42M489.34 201.59L511.67 223.92M489.34 206.09L511.67 228.42M489.34 210.59L511.67 232.92M489.34 215.09L511.67 237.42M489.34 219.59L511.67 241.92M489.34 224.09L511.67 246.42M489.34 228.59L511.67 250.92M489.34 233.09L511.67 255.42M489.34 237.59L511.67 259.92M489.34 242.09L511.67 264.42M489.34 246.59L511.67 268.92M489.34 251.09L511.67 273.42M489.34 255.59L511.67 277.92M489.34 260.09L511.67 282.42M489.34 264.59L511.67 286.92M489.34 269.09L511.67 291.42M489.34 273.59L511.67 295.92M489.34 278.09L511.67 300.42M489.34 282.59L511.67 304.92M489.34 287.09L511.67 309.42M489.34 291.59L511.67 313.92M489.34 296.09L511.67 318.42M489.34 300.59L511.67 322.92M489.34 305.09L511.67 327.42M489.34 309.59L511.67 331.92M489.34 314.09L511.67 336.42M489.34 318.59L511.67 340.92M489.34 37.41L511.67 15.08M489.34 41.91L511.67 19.58M489.34 46.41L511.67 24.08M489.34 50.91L511.67 28.58M489.34 55.41L511.67 33.08M489.34 59.91L511.67 37.58M489.34 64.41L511.67 42.08M489.34 68.91L511.67 46.58M489.34 73.41L511.67 51.08M489.34 77.91L511.67 55.58M489.34 82.41L511.67 60.08M489.34 86.91L511.67 64.58M489.34 91.41L511.67 69.08M489.34 95.91L511.67 73.58M489.34 100.41L511.67 78.08M489.34 104.91L511.67 82.58M489.34 109.41L511.67 87.08M489.34 113.91L511.67 91.58M489.34 118.41L511.67 96.08M489.34 122.91L511.67 100.58M489.34 127.41L511.67 105.08M489.34 131.91L511.67 109.58M489.34 136.41L511.67 114.08M489.34 140.91L511.67 118.58M489.34 145.41L511.67 123.08M489.34 149.91L511.67 127.58M489.34 154.41L511.67 132.08M489.34 158.91L511.67 136.58M489.34 163.41L511.67 141.08M489.34 167.91L511.67 145.58M489.34 172.41L511.67 150.08M489.34 176.91L511.67 154.58M489.34 181.41L511.67 159.08M489.34 185.91L511.67 163.58M489.34 190.41L511.67 168.08M489.34 194.91L511.67 172.58M489.34 199.41L511.67 177.08M489.34 203.91L511.67 181.58M489.34 208.41L511.67 186.08M489.34 212.91L511.67 190.58M489.34 217.41L511.67 195.08M489.34 221.91L511.67 199.58M489.34 226.41L511.67 204.08M489.34 230.91L511.67 208.58M489.34 235.41L511.67 213.08M489.34 239.91L511.67 217.58M489.34 244.41L511.67 222.08M489.34 248.91L511.67 226.58M489.34 253.41L511.67 231.08M489.34 257.91L511.67 235.58M489.34 262.41L511.67 240.08M489.34 266.91L511.67 244.58M489.34 271.41L511.67 249.08M489.34 275.91L511.67 253.58M489.34 280.41L511.67 258.08M489.34 284.91L511.67 262.58M489.34 289.41L511.67 267.08M489.34 293.91L511.67 271.58M489.34 298.41L511.67 276.08M489.34 302.91L511.67 280.58M489.34 307.41L511.67 285.08M489.34 311.91L511.67 289.58M489.34 316.41L511.67 294.08M489.34 320.91L511.67 298.58M489.34 325.41L511.67 303.08M489.34 329.91L511.67 307.58M489.34 334.41L511.67 312.08M489.34 338.91L511.67 316.58" stroke="#000" stroke-width="1.00" fill="none"/></g>
<rect x="490.34" y="44.56" width="20.34" height="268.14" fill="none" stroke="#000" stroke-width="1.1"/>
<path d="M500.50 31.26V57.85M496.85 31.26H504.15M496.85 57.85H504.15" stroke="#000" stroke-width="1.3" fill="none"/>
<path d="M60.70 1.75V312.70H518.30V1.75Z" stroke="#000" stroke-width="1.45" fill="none"/>
<path d="M60.70 312.70H53.90M60.70 284.41H57.20M60.70 256.13H53.90M60.70 227.84H57.20M60.70 199.56H53.90M60.70 171.28H57.20M60.70 142.99H53.90M60.70 114.71H57.20M60.70 86.42H53.90M60.70 58.14H57.20M60.70 29.85H53.90M60.70 1.57H57.20M98.83 312.70V319.50M60.70 312.70V316.20M175.10 312.70V319.50M136.97 312.70V316.20M251.37 312.70V319.50M213.23 312.70V316.20M327.63 312.70V319.50M289.50 312.70V316.20M403.90 312.70V319.50M365.77 312.70V316.20M480.17 312.70V319.50M442.03 312.70V316.20M518.30 312.70V316.20" stroke="#000" stroke-width="1.3" fill="none"/>
<text transform="translate(49.40 317.25) scale(1.020 1)" text-anchor="end" font-size="16.30">0</text>
<text transform="translate(49.40 260.68) scale(1.020 1)" text-anchor="end" font-size="16.30">20</text>
<text transform="translate(49.40 204.11) scale(1.020 1)" text-anchor="end" font-size="16.30">40</text>
<text transform="translate(49.40 147.54) scale(1.020 1)" text-anchor="end" font-size="16.30">60</text>
<text transform="translate(49.40 90.97) scale(1.020 1)" text-anchor="end" font-size="16.30">80</text>
<text transform="translate(49.40 34.40) scale(1.020 1)" text-anchor="end" font-size="16.30">100</text>
<text transform="translate(99.03 335.40) scale(1.050 1)" text-anchor="middle" font-size="16.30">1</text>
<text transform="translate(175.30 335.40) scale(1.050 1)" text-anchor="middle" font-size="16.30">2</text>
<text transform="translate(251.57 335.40) scale(1.050 1)" text-anchor="middle" font-size="16.30">3</text>
<text transform="translate(327.83 335.40) scale(1.050 1)" text-anchor="middle" font-size="16.30">4</text>
<text transform="translate(404.10 335.40) scale(1.050 1)" text-anchor="middle" font-size="16.30">5</text>
<text transform="translate(480.37 336.00) scale(1.035 1)" text-anchor="middle" font-size="16.30">Control</text>
<text x="99.20" y="361.8" font-size="16.3" textLength="101.20" lengthAdjust="spacingAndGlyphs">Concentration</text>
<text x="205.30" y="361.8" font-size="16.3" textLength="13.60" lengthAdjust="spacingAndGlyphs">of</text>
<text x="222.20" y="361.8" font-size="16.3" textLength="63.00" lengthAdjust="spacingAndGlyphs">Cuprous</text>
<text x="288.80" y="361.8" font-size="16.3" textLength="37.00" lengthAdjust="spacingAndGlyphs">oxide</text>
<text x="331.30" y="361.8" font-size="16.3" textLength="86.40" lengthAdjust="spacingAndGlyphs">nanocrystals</text>
<text x="424.10" y="361.8" font-size="16.3" textLength="55.70" lengthAdjust="spacingAndGlyphs">(<tspan font-weight="normal">μ</tspan>g/mL)</text>
<text transform="translate(13.6 166.0) rotate(-90) scale(0.905 1)" text-anchor="middle" font-size="17.2">Cell Viability (%)</text>
<rect x="302.6" y="8.6" width="130.1" height="57.6" fill="#fff" stroke="#222" stroke-width="0.8"/>
<g clip-path="url(#c19)"><path filter="url(#bl)" d="M304.00 -40.02L343.00 -2.19M304.00 -31.02L343.00 6.81M304.00 -22.02L343.00 15.81M304.00 -13.02L343.00 24.81M304.00 -4.02L343.00 33.81M304.00 4.98L343.00 42.81M304.00 13.98L343.00 51.81M304.00 22.98L343.00 60.81M304.00 31.98L343.00 69.81M304.00 40.98L343.00 78.81" stroke="#000" stroke-width="1.00" fill="none"/></g>
<rect x="305.0" y="11.90" width="37.0" height="13.00" fill="none" stroke="#000" stroke-width="1.1"/>
<text transform="translate(346.40 23.70) scale(1.012 1)" text-anchor="start" font-size="16.20">Cubic</text>
<g clip-path="url(#c20)"><path filter="url(#bl)" d="M304.00 -11.80L343.00 27.20M304.00 -7.80L343.00 31.20M304.00 -3.80L343.00 35.20M304.00 0.20L343.00 39.20M304.00 4.20L343.00 43.20M304.00 8.20L343.00 47.20M304.00 12.20L343.00 51.20M304.00 16.20L343.00 55.20M304.00 20.20L343.00 59.20M304.00 24.20L343.00 63.20M304.00 28.20L343.00 67.20M304.00 32.20L343.00 71.20M304.00 36.20L343.00 75.20M304.00 40.20L343.00 79.20M304.00 44.20L343.00 83.20M304.00 48.20L343.00 87.20" stroke="#000" stroke-width="0.95" fill="none"/></g>
<rect x="305.0" y="31.00" width="37.0" height="13.20" fill="none" stroke="#000" stroke-width="1.1"/>
<text transform="translate(346.40 42.80) scale(1.012 1)" text-anchor="start" font-size="16.20">Hexahedral</text>
<g clip-path="url(#c21)"><path filter="url(#bl)" d="M304.00 7.25L343.00 46.25M304.00 11.75L343.00 50.75M304.00 16.25L343.00 55.25M304.00 20.75L343.00 59.75M304.00 25.25L343.00 64.25M304.00 29.75L343.00 68.75M304.00 34.25L343.00 73.25M304.00 38.75L343.00 77.75M304.00 43.25L343.00 82.25M304.00 47.75L343.00 86.75M304.00 52.25L343.00 91.25M304.00 56.75L343.00 95.75M304.00 61.25L343.00 100.25M304.00 65.75L343.00 104.75M304.00 70.25L343.00 109.25M304.00 42.75L343.00 3.75M304.00 47.25L343.00 8.25M304.00 51.75L343.00 12.75M304.00 56.25L343.00 17.25M304.00 60.75L343.00 21.75M304.00 65.25L343.00 26.25M304.00 69.75L343.00 30.75M304.00 74.25L343.00 35.25M304.00 78.75L343.00 39.75M304.00 83.25L343.00 44.25M304.00 87.75L343.00 48.75M304.00 92.25L343.00 53.25M304.00 96.75L343.00 57.75M304.00 101.25L343.00 62.25M304.00 105.75L343.00 66.75" stroke="#000" stroke-width="1.00" fill="none"/></g>
<rect x="305.0" y="50.30" width="37.0" height="12.60" fill="none" stroke="#000" stroke-width="1.1"/>
<text transform="translate(346.40 61.80) scale(1.012 1)" text-anchor="start" font-size="16.20">Octahedral</text>
</svg>
</body></html>
